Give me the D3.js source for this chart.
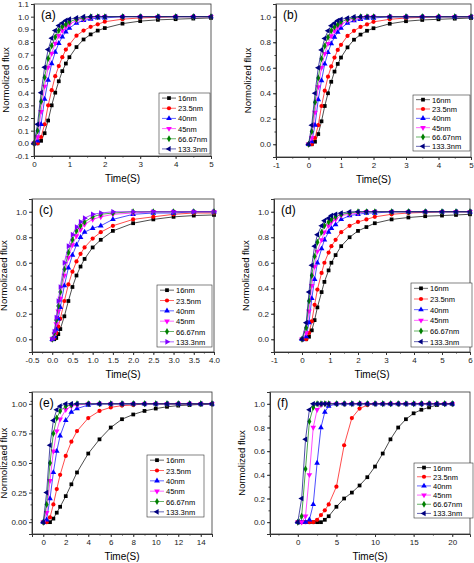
<!DOCTYPE html>
<html><head><meta charset="utf-8">
<script src="https://cdn.jsdelivr.net/npm/d3@7"></script>
<style>body{margin:0;background:#fff}svg{font-family:"Liberation Sans",Arial,sans-serif}</style>
</head><body>
<script>
const seriesNames = ['16nm','23.5nm','40nm','45nm','66.67nm','133.3nm'];

const timeA = [0,0.1,0.2,0.3,0.4,0.5,0.6,0.7,0.8,0.9,1.0,1.2,1.4,1.6,1.8,2.0,2.5,3,3.5,4,4.5,5];
const fluxA = [
  [0,0,0.02,0.08,0.18,0.3,0.4,0.49,0.57,0.63,0.68,0.76,0.82,0.86,0.89,0.91,0.945,0.965,0.975,0.98,0.985,0.99],
  [0,0,0.05,0.15,0.3,0.42,0.53,0.61,0.68,0.74,0.78,0.85,0.89,0.92,0.94,0.96,0.98,0.99,0.995,1,1,1],
  [0,0.02,0.15,0.35,0.5,0.63,0.72,0.79,0.84,0.88,0.91,0.95,0.97,0.98,0.99,0.99,1,1,1,1,1,1],
  [0,0.05,0.25,0.45,0.6,0.71,0.79,0.85,0.89,0.92,0.94,0.97,0.98,0.99,1,1,1,1,1,1,1,1],
  [0,0.1,0.33,0.52,0.67,0.77,0.84,0.89,0.92,0.94,0.96,0.98,0.99,1,1,1,1,1,1,1,1,1],
  [0,0.15,0.4,0.6,0.74,0.83,0.89,0.93,0.95,0.97,0.98,0.99,1,1,1,1,1,1,1,1,1,1]
];
const timeB = [0,0.1,0.2,0.3,0.4,0.5,0.6,0.7,0.8,0.9,1.0,1.2,1.4,1.6,1.8,2.0,2.5,3,3.5,4,4.5,5];
const fluxB = [
  [0,0,0.02,0.08,0.18,0.3,0.4,0.49,0.57,0.63,0.68,0.76,0.82,0.86,0.89,0.91,0.945,0.965,0.975,0.98,0.985,0.99],
  [0,0,0.05,0.15,0.3,0.42,0.53,0.61,0.68,0.74,0.78,0.85,0.89,0.92,0.94,0.96,0.98,0.99,0.995,1,1,1],
  [0,0.02,0.15,0.35,0.5,0.63,0.72,0.79,0.84,0.88,0.91,0.95,0.97,0.98,0.99,0.99,1,1,1,1,1,1],
  [0,0.05,0.25,0.45,0.6,0.71,0.79,0.85,0.89,0.92,0.94,0.97,0.98,0.99,1,1,1,1,1,1,1,1],
  [0,0.1,0.33,0.52,0.67,0.77,0.84,0.89,0.92,0.94,0.96,0.98,0.99,1,1,1,1,1,1,1,1,1],
  [0,0.15,0.4,0.6,0.74,0.83,0.89,0.93,0.95,0.97,0.98,0.99,1,1,1,1,1,1,1,1,1,1]
];
const timeC = [0,0.05,0.1,0.15,0.2,0.3,0.4,0.5,0.6,0.7,0.8,1.0,1.2,1.5,2,2.5,3,3.5,4];
const fluxC = [
  [0,0,0.01,0.04,0.08,0.18,0.3,0.41,0.5,0.57,0.63,0.72,0.78,0.85,0.91,0.94,0.96,0.97,0.975],
  [0,0.01,0.05,0.1,0.16,0.3,0.43,0.53,0.61,0.67,0.72,0.79,0.84,0.89,0.94,0.96,0.98,0.99,0.99],
  [0,0.02,0.08,0.16,0.25,0.42,0.56,0.66,0.74,0.8,0.84,0.87,0.89,0.94,0.98,0.99,0.99,1,1],
  [0,0.04,0.12,0.22,0.32,0.5,0.64,0.74,0.81,0.86,0.9,0.94,0.96,0.98,0.99,1,1,1,1],
  [0,0.05,0.15,0.26,0.37,0.55,0.68,0.78,0.85,0.89,0.92,0.96,0.98,0.99,1,1,1,1,1],
  [0,0.06,0.17,0.3,0.41,0.6,0.73,0.82,0.88,0.92,0.95,0.98,0.99,1,1,1,1,1,1]
];
const timeD = [0,0.15,0.25,0.35,0.45,0.55,0.7,0.8,0.95,1.05,1.2,1.4,1.7,2,2.3,2.6,3.2,3.8,4.4,5,5.5,6];
const fluxD = [
  [0,0,0.02,0.07,0.15,0.25,0.37,0.45,0.54,0.6,0.66,0.73,0.8,0.85,0.88,0.91,0.94,0.955,0.965,0.97,0.975,0.98],
  [0,0,0.05,0.14,0.27,0.39,0.52,0.6,0.68,0.73,0.78,0.84,0.89,0.92,0.94,0.96,0.98,0.99,0.995,1,1,1],
  [0,0.02,0.13,0.32,0.47,0.6,0.71,0.78,0.84,0.87,0.9,0.94,0.97,0.98,0.99,0.99,1,1,1,1,1,1],
  [0,0.05,0.22,0.42,0.57,0.69,0.78,0.84,0.89,0.92,0.94,0.97,0.98,0.99,1,1,1,1,1,1,1,1],
  [0,0.09,0.3,0.5,0.65,0.76,0.84,0.89,0.92,0.94,0.96,0.98,0.99,1,1,1,1,1,1,1,1,1],
  [0,0.13,0.37,0.58,0.73,0.82,0.89,0.93,0.95,0.97,0.98,0.99,1,1,1,1,1,1,1,1,1,1]
];
const timeE = [0,0.3,0.6,0.9,1.2,1.5,2,2.5,3,4,5,6,7,8,9,10,11,12,13,14,15];
const fluxE = [
  [0,0,0,0.03,0.08,0.13,0.22,0.32,0.42,0.58,0.7,0.8,0.87,0.91,0.94,0.96,0.975,0.985,0.99,0.995,1],
  [0,0,0.04,0.15,0.28,0.4,0.56,0.68,0.77,0.88,0.94,0.97,0.985,0.99,1,1,1,1,1,1,1],
  [0,0.02,0.2,0.42,0.6,0.73,0.86,0.93,0.96,0.99,1,1,1,1,1,1,1,1,1,1,1],
  [0,0.08,0.35,0.6,0.77,0.87,0.95,0.98,0.99,1,1,1,1,1,1,1,1,1,1,1,1],
  [0,0.15,0.5,0.75,0.88,0.94,0.98,0.99,1,1,1,1,1,1,1,1,1,1,1,1,1],
  [0,0.25,0.65,0.86,0.95,0.98,1,1,1,1,1,1,1,1,1,1,1,1,1,1,1]
];
const timeF = [0,0.5,1,1.5,2,2.5,3,3.5,4,5,6,7,8,9,10,11,12,13,14,15,16,17,18,19,20];
const fluxF = [
  [0,0,0,0,0,0,0,0.02,0.05,0.13,0.2,0.25,0.31,0.38,0.47,0.58,0.7,0.8,0.87,0.92,0.95,0.97,0.99,1,1],
  [0,0,0,0,0,0.02,0.06,0.1,0.15,0.3,0.65,0.88,0.96,0.99,1,1,1,1,1,1,1,1,1,1,1],
  [0,0,0,0.02,0.15,0.5,0.8,0.93,0.98,1,1,1,1,1,1,1,1,1,1,1,1,1,1,1,1],
  [0,0,0.05,0.4,0.8,0.95,0.99,1,1,1,1,1,1,1,1,1,1,1,1,1,1,1,1,1,1],
  [0,0.05,0.45,0.85,0.97,1,1,1,1,1,1,1,1,1,1,1,1,1,1,1,1,1,1,1,1],
  [0,0.2,0.7,0.95,1,1,1,1,1,1,1,1,1,1,1,1,1,1,1,1,1,1,1,1,1]
];

const colors = ['#000000','#ff0000','#0000ff','#ff00ff','#008000','#000080'];
const shapes = [d3.symbolSquare, d3.symbolCircle, d3.symbolTriangle, 'tdown', d3.symbolDiamond, 'tleft'];

const panels = [
  {id:'(a)', t:timeA, f:fluxA, x:[34,211], y:[4,156], xd:[0,5], yd:[-0.1,1.1], xt:d3.range(0,5.01,1), xm:0.5, yt:d3.range(-0.1,1.15,0.1), ym:null, yf:'.1f', xf:'d', lg:[159,93,210,154], yl:'Normolized flux'},
  {id:'(b)', t:timeB, f:fluxB, x:[276,471], y:[4,157], xd:[-1,5], yd:[-0.1,1.1], xt:d3.range(-1,5.01,1), xm:0.5, yt:d3.range(0,1.01,0.2), ym:0.1, yf:'.1f', xf:'d', lg:[413,95,470,151], yl:'Normolized flux'},
  {id:'(c)', t:timeC, f:fluxC, x:[32,214], y:[199,352], xd:[-0.5,4], yd:[-0.1,1.1], xt:d3.range(-0.5,4.01,0.5), xm:0.25, yt:d3.range(0,1.01,0.2), ym:0.1, yf:'.1f', xf:'.1f', lg:[157,285,212,347], yl:'Normolizaed flux', last:'#8000ff'},
  {id:'(d)', t:timeD, f:fluxD, x:[274,470], y:[199,352], xd:[-1,6], yd:[-0.1,1.1], xt:d3.range(-1,6.01,1), xm:0.5, yt:d3.range(0,1.01,0.2), ym:0.1, yf:'.1f', xf:'d', lg:[411,283,472,347], yl:'Normolizaed flux'},
  {id:'(e)', t:timeE, f:fluxE, x:[32,212], y:[392,534], xd:[-1,15], yd:[-0.1,1.1], xt:d3.range(0,14.01,2), xm:1, yt:d3.range(0,1.01,0.25), ym:0.125, yf:'.2f', xf:'d', lg:[147,455,204,517], yl:'Normolizaed flux'},
  {id:'(f)', t:timeF, f:fluxF, x:[270,470], y:[392,534], xd:[-3.6,22.3], yd:[-0.1,1.1], xt:d3.range(0,20.01,5), xm:2.5, yt:d3.range(0,1.01,0.2), ym:0.1, yf:'.1f', xf:'d', lg:[414,463,473,518], yl:'Normolized flux'}
];

const svg = d3.select('body').append('svg').attr('width',474).attr('height',563);

function rot(k, isC){
  if (isC && k === 5) return 90;
  return shapes[k] === 'tdown' ? 180 : shapes[k] === 'tleft' ? -90 : 0;
}
function sym(k, size){
  const s = (shapes[k] === 'tdown' || shapes[k] === 'tleft') ? d3.symbolTriangle : shapes[k];
  return d3.symbol(s, size)();
}
const fmt = f => { const g = d3.format(f); return d => g(d).replace('\u2212','-'); };

panels.forEach(P => {
  const xs = d3.scaleLinear().domain(P.xd).range(P.x);
  const ys = d3.scaleLinear().domain(P.yd).range([P.y[1], P.y[0]]);
  const g = svg.append('g');
  const isC = !!P.last;

  // curves
  P.f.forEach((vals, k) => {
    const color = (isC && k === 5) ? P.last : colors[k];
    const pts = vals.map((v,i) => [P.t[i], v]);
    g.append('path').datum(pts)
      .attr('d', d3.line().x(d => xs(d[0])).y(d => ys(d[1])))
      .attr('fill','none').attr('stroke',color).attr('stroke-width',0.7);
    g.selectAll(null).data(pts).enter().append('path')
      .attr('d', sym(k, 14))
      .attr('transform', d => `translate(${xs(d[0])},${ys(d[1])}) rotate(${rot(k,isC)})`)
      .attr('fill', color);
  });

  // frame
  g.append('rect').attr('x',P.x[0]).attr('y',P.y[0]).attr('width',P.x[1]-P.x[0]).attr('height',P.y[1]-P.y[0])
    .attr('fill','none').attr('stroke','#333').attr('stroke-width',0.8);

  g.append('g').attr('transform',`translate(0,${P.y[1]})`)
    .call(d3.axisBottom(xs).tickValues(P.xt).tickFormat(fmt(P.xf)).tickSize(3).tickPadding(2));
  const xminor = d3.range(Math.ceil(P.xd[0]/P.xm)*P.xm, P.xd[1]+1e-9, P.xm);
  g.append('g').attr('transform',`translate(0,${P.y[1]})`)
    .call(d3.axisBottom(xs).tickValues(xminor).tickFormat('').tickSize(1.5))
    .call(a => a.select('.domain').remove());
  g.append('g').attr('transform',`translate(${P.x[0]},0)`)
    .call(d3.axisLeft(ys).tickValues(P.yt).tickFormat(fmt(P.yf)).tickSize(3).tickPadding(2));
  if (P.ym) {
    g.append('g').attr('transform',`translate(${P.x[0]},0)`)
      .call(d3.axisLeft(ys).tickValues(d3.range(-0.1,1.101,P.ym)).tickFormat('').tickSize(1.5))
      .call(a => a.select('.domain').remove());
  }
  g.selectAll('.tick text').attr('font-size',8).attr('fill','#222').attr('font-family','"Liberation Sans",Arial,sans-serif');
  g.selectAll('.domain,.tick line').attr('stroke','#333');

  g.append('text').attr('x',(P.x[0]+P.x[1])/2).attr('y',P.y[1]+26).attr('text-anchor','middle')
    .attr('font-size',10).text('Time(S)');
  g.append('text').attr('transform',`translate(${P.x[0]-25},${(P.y[0]+P.y[1])/2}) rotate(-90)`)
    .attr('text-anchor','middle').attr('font-size',9.5).text(P.yl);
  g.append('text').attr('x',P.x[0]+7).attr('y',P.y[0]+15).attr('font-size',12).text(P.id);

  // legend
  const [lx0,ly0,lx1,ly1] = P.lg;
  g.append('rect').attr('x',lx0).attr('y',ly0).attr('width',lx1-lx0).attr('height',ly1-ly0)
    .attr('fill','#fff').attr('stroke','#333').attr('stroke-width',0.6);
  const rowH = (ly1-ly0)/6;
  seriesNames.forEach((name,k) => {
    const color = (isC && k === 5) ? P.last : colors[k];
    const cy = ly0 + rowH*(k+0.5);
    g.append('line').attr('x1',lx0+3).attr('x2',lx0+17).attr('y1',cy).attr('y2',cy).attr('stroke',color).attr('stroke-width',0.6);
    g.append('path').attr('d', sym(k, 14))
      .attr('transform',`translate(${lx0+10},${cy}) rotate(${rot(k,isC)})`).attr('fill',color);
    g.append('text').attr('x',lx0+19).attr('y',cy+3).attr('font-size',7.5).text(name);
  });
});
</script>
</body></html>
